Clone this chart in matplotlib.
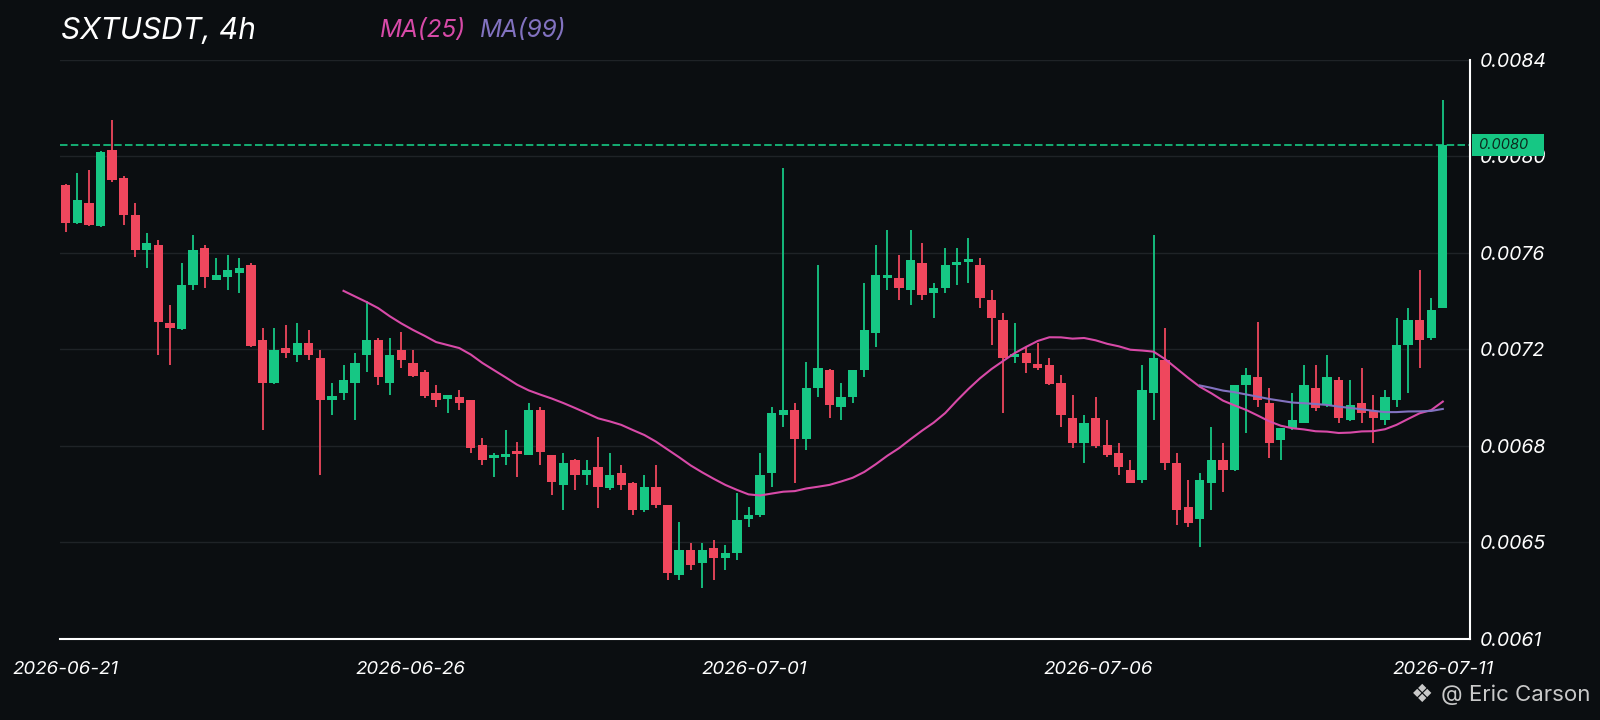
import numpy as np
import pandas as pd
import matplotlib
matplotlib.use("Agg")
import matplotlib.pyplot as plt
from matplotlib.patches import Rectangle
from matplotlib import transforms

# SXTUSDT 4h candles (price in USDT)
open_ = [7.866e-3, 7.718e-3, 7.797e-3, 7.706e-3, 8.004e-3, 7.897e-3, 7.748e-3, 7.611e-3, 7.630e-3, 7.325e-3,
         7.302e-3, 7.473e-3, 7.621e-3, 7.495e-3, 7.506e-3, 7.523e-3, 7.554e-3, 7.257e-3, 7.089e-3, 7.226e-3,
         7.197e-3, 7.246e-3, 7.187e-3, 7.023e-3, 7.049e-3, 7.089e-3, 7.197e-3, 7.257e-3, 7.089e-3, 7.217e-3,
         7.167e-3, 7.132e-3, 7.049e-3, 7.027e-3, 7.031e-3, 7.020e-3, 6.843e-3, 6.791e-3, 6.798e-3, 6.813e-3,
         6.804e-3, 6.981e-3, 6.804e-3, 6.686e-3, 6.785e-3, 6.725e-3, 6.756e-3, 6.673e-3, 6.735e-3, 6.695e-3,
         6.588e-3, 6.677e-3, 6.607e-3, 6.332e-3, 6.430e-3, 6.381e-3, 6.440e-3, 6.400e-3, 6.420e-3, 6.551e-3,
         6.568e-3, 6.735e-3, 6.962e-3, 6.981e-3, 6.866e-3, 7.070e-3, 7.139e-3, 6.992e-3, 7.031e-3, 7.139e-3,
         7.285e-3, 7.503e-3, 7.503e-3, 7.453e-3, 7.561e-3, 7.443e-3, 7.464e-3, 7.552e-3, 7.565e-3, 7.552e-3,
         7.414e-3, 7.335e-3, 7.191e-3, 7.207e-3, 7.158e-3, 7.158e-3, 7.089e-3, 6.952e-3, 6.853e-3, 6.952e-3,
         6.844e-3, 6.813e-3, 6.745e-3, 6.706e-3, 7.049e-3, 7.178e-3, 6.774e-3, 6.598e-3, 6.551e-3, 6.695e-3,
         6.784e-3, 6.745e-3, 7.080e-3, 7.110e-3, 7.010e-3, 6.863e-3, 6.909e-3, 6.931e-3, 7.070e-3, 7.001e-3,
         7.099e-3, 6.942e-3, 7.010e-3, 6.979e-3, 6.942e-3, 7.023e-3, 7.237e-3, 7.335e-3, 7.267e-3, 7.385e-3]
high = [7.870e-3, 7.916e-3, 7.925e-3, 8.001e-3, 8.122e-3, 7.904e-3, 7.797e-3, 7.680e-3, 7.650e-3, 7.394e-3,
        7.561e-3, 7.670e-3, 7.630e-3, 7.582e-3, 7.591e-3, 7.580e-3, 7.562e-3, 7.305e-3, 7.305e-3, 7.316e-3,
        7.326e-3, 7.296e-3, 7.217e-3, 7.089e-3, 7.158e-3, 7.207e-3, 7.411e-3, 7.266e-3, 7.266e-3, 7.287e-3,
        7.217e-3, 7.138e-3, 7.080e-3, 7.040e-3, 7.060e-3, 7.020e-3, 6.872e-3, 6.813e-3, 6.902e-3, 6.854e-3,
        7.010e-3, 6.992e-3, 6.806e-3, 6.813e-3, 6.787e-3, 6.785e-3, 6.874e-3, 6.813e-3, 6.765e-3, 6.697e-3,
        6.725e-3, 6.765e-3, 6.609e-3, 6.542e-3, 6.459e-3, 6.459e-3, 6.470e-3, 6.450e-3, 6.656e-3, 6.598e-3,
        6.813e-3, 6.992e-3, 7.936e-3, 7.010e-3, 7.169e-3, 7.552e-3, 7.145e-3, 7.089e-3, 7.139e-3, 7.482e-3,
        7.630e-3, 7.689e-3, 7.591e-3, 7.689e-3, 7.639e-3, 7.482e-3, 7.621e-3, 7.621e-3, 7.660e-3, 7.582e-3,
        7.453e-3, 7.364e-3, 7.325e-3, 7.228e-3, 7.246e-3, 7.188e-3, 7.119e-3, 7.040e-3, 6.962e-3, 7.031e-3,
        6.942e-3, 6.853e-3, 6.784e-3, 7.158e-3, 7.670e-3, 7.306e-3, 6.813e-3, 6.706e-3, 6.735e-3, 6.916e-3,
        6.853e-3, 7.082e-3, 7.149e-3, 7.329e-3, 7.070e-3, 6.911e-3, 7.049e-3, 7.158e-3, 7.158e-3, 7.198e-3,
        7.110e-3, 7.099e-3, 7.149e-3, 7.040e-3, 7.060e-3, 7.346e-3, 7.385e-3, 7.532e-3, 7.424e-3, 8.201e-3]
low = [7.683e-3, 7.713e-3, 7.705e-3, 7.702e-3, 7.880e-3, 7.710e-3, 7.584e-3, 7.541e-3, 7.198e-3, 7.158e-3,
       7.296e-3, 7.453e-3, 7.464e-3, 7.493e-3, 7.453e-3, 7.443e-3, 7.228e-3, 6.903e-3, 7.085e-3, 7.188e-3,
       7.169e-3, 7.180e-3, 6.725e-3, 6.962e-3, 7.023e-3, 6.942e-3, 7.132e-3, 7.082e-3, 7.040e-3, 7.149e-3,
       7.110e-3, 7.030e-3, 6.992e-3, 6.971e-3, 6.981e-3, 6.813e-3, 6.765e-3, 6.716e-3, 6.765e-3, 6.716e-3,
       6.804e-3, 6.765e-3, 6.647e-3, 6.588e-3, 6.666e-3, 6.686e-3, 6.597e-3, 6.666e-3, 6.666e-3, 6.568e-3,
       6.579e-3, 6.597e-3, 6.312e-3, 6.312e-3, 6.352e-3, 6.281e-3, 6.312e-3, 6.352e-3, 6.391e-3, 6.520e-3,
       6.559e-3, 6.677e-3, 6.913e-3, 6.695e-3, 6.826e-3, 7.031e-3, 6.952e-3, 6.944e-3, 7.010e-3, 7.110e-3,
       7.228e-3, 7.453e-3, 7.414e-3, 7.394e-3, 7.414e-3, 7.346e-3, 7.443e-3, 7.473e-3, 7.482e-3, 7.385e-3,
       7.237e-3, 6.971e-3, 7.167e-3, 7.128e-3, 7.139e-3, 7.080e-3, 6.913e-3, 6.834e-3, 6.774e-3, 6.834e-3,
       6.795e-3, 6.726e-3, 6.693e-3, 6.695e-3, 6.942e-3, 6.745e-3, 6.529e-3, 6.520e-3, 6.444e-3, 6.588e-3,
       6.660e-3, 6.743e-3, 6.892e-3, 6.992e-3, 6.791e-3, 6.784e-3, 6.903e-3, 6.931e-3, 6.979e-3, 6.994e-3,
       6.931e-3, 6.940e-3, 6.931e-3, 6.853e-3, 6.922e-3, 6.992e-3, 7.049e-3, 7.149e-3, 7.257e-3, 7.383e-3]
close = [7.720e-3, 7.807e-3, 7.709e-3, 7.997e-3, 7.886e-3, 7.751e-3, 7.611e-3, 7.639e-3, 7.329e-3, 7.306e-3,
         7.473e-3, 7.611e-3, 7.506e-3, 7.512e-3, 7.532e-3, 7.542e-3, 7.233e-3, 7.089e-3, 7.217e-3, 7.208e-3,
         7.246e-3, 7.197e-3, 7.023e-3, 7.030e-3, 7.099e-3, 7.167e-3, 7.257e-3, 7.110e-3, 7.197e-3, 7.178e-3,
         7.115e-3, 7.036e-3, 7.020e-3, 7.034e-3, 7.011e-3, 6.833e-3, 6.784e-3, 6.798e-3, 6.807e-3, 6.807e-3,
         6.981e-3, 6.817e-3, 6.699e-3, 6.774e-3, 6.725e-3, 6.745e-3, 6.677e-3, 6.725e-3, 6.686e-3, 6.588e-3,
         6.677e-3, 6.607e-3, 6.341e-3, 6.430e-3, 6.371e-3, 6.430e-3, 6.400e-3, 6.420e-3, 6.548e-3, 6.568e-3,
         6.725e-3, 6.971e-3, 6.981e-3, 6.866e-3, 7.070e-3, 7.148e-3, 7.001e-3, 7.031e-3, 7.139e-3, 7.296e-3,
         7.512e-3, 7.512e-3, 7.464e-3, 7.571e-3, 7.434e-3, 7.464e-3, 7.552e-3, 7.561e-3, 7.574e-3, 7.424e-3,
         7.346e-3, 7.188e-3, 7.198e-3, 7.167e-3, 7.149e-3, 7.086e-3, 6.962e-3, 6.853e-3, 6.931e-3, 6.840e-3,
         6.804e-3, 6.756e-3, 6.695e-3, 7.060e-3, 7.188e-3, 6.774e-3, 6.588e-3, 6.538e-3, 6.706e-3, 6.784e-3,
         6.745e-3, 7.080e-3, 7.119e-3, 7.023e-3, 6.853e-3, 6.909e-3, 6.942e-3, 7.080e-3, 6.988e-3, 7.110e-3,
         6.952e-3, 7.001e-3, 6.971e-3, 6.952e-3, 7.031e-3, 7.237e-3, 7.335e-3, 7.257e-3, 7.375e-3, 8.024e-3]

date_labels = ["2026-06-21", "2026-06-26", "2026-07-01", "2026-07-06", "2026-07-11"]
price_ticks = [0.00608, 0.00646, 0.00684, 0.00722, 0.00760, 0.00798, 0.00836]

BG = "#0b0e11"
UP = "#16c784"
DOWN = "#ef475d"
MA25_COLOR = "#d84aa8"
MA99_COLOR = "#8272c0"

plt.rcParams["font.family"] = ["Inter", "DejaVu Sans"]

o = np.array(open_)
h = np.array(high)
l = np.array(low)
c = np.array(close)
x = np.arange(len(c))

fig = plt.figure(figsize=(16, 7.2), dpi=100, facecolor=BG)
ax = fig.add_axes([0.0375, 0.1125, 0.88125, 0.80417])
ax.set_facecolor(BG)

colors = np.where(c >= o, UP, DOWN)
ax.vlines(x, l, h, colors=colors, linewidth=1.3, zorder=2)
body_lo = np.minimum(o, c)
body_h = np.maximum(np.abs(c - o), 1.2e-5)
ax.bar(x, body_h, bottom=body_lo, width=0.8, color=colors, linewidth=0, zorder=3)

# moving averages of the close
ma25 = pd.Series(c).rolling(25).mean()
ma99 = pd.Series(c).rolling(99).mean()
ax.plot(x, ma25, color=MA25_COLOR, lw=1.5, zorder=4)
ax.plot(x, ma99, color=MA99_COLOR, lw=1.5, zorder=4)

# last price line + tag
last = c[-1]
ax.axhline(last, color=UP, lw=1.2, ls=(0, (4.5, 2)), zorder=1.5)
trans = transforms.blended_transform_factory(ax.transAxes, ax.transData)
ax.add_patch(Rectangle((1.0015, last - 4.3e-5), 0.051, 8.66e-5, transform=trans,
                       facecolor=UP, edgecolor="none", clip_on=False, zorder=5))
ax.text(1.006, last, f"{last:.4f}", transform=trans, ha="left", va="center",
        fontsize=10.5, style="italic", color="#0b2a1e", zorder=6, clip_on=False)

ax.set_xlim(-0.5, 121.35)
ax.set_ylim(price_ticks[0], price_ticks[-1])

ax.yaxis.tick_right()
ax.set_yticks(price_ticks, [f"{t:.4f}" for t in price_ticks], fontstyle="italic")
ax.set_xticks(np.linspace(0, len(c) - 1, len(date_labels)), date_labels, fontstyle="italic")
ax.tick_params(axis="y", length=0, pad=7, labelsize=14, labelcolor="white")
ax.tick_params(axis="x", length=0, pad=16, labelsize=13.5, labelcolor="white")

ax.grid(axis="y", color="#1f2327", lw=1)
ax.set_axisbelow(True)
for side in ["left", "top"]:
    ax.spines[side].set_visible(False)
for side in ["right", "bottom"]:
    ax.spines[side].set_color("white")
    ax.spines[side].set_linewidth(1.5)

fig.text(61 / 1600, 1 - 31 / 720, "SXTUSDT, 4h", color="white", fontsize=21.5,
         style="italic", ha="left", va="center")
fig.text(380 / 1600, 1 - 31 / 720, "MA(25)", color=MA25_COLOR, fontsize=17.5,
         style="italic", ha="left", va="center")
fig.text(480 / 1600, 1 - 31 / 720, "MA(99)", color=MA99_COLOR, fontsize=17.5,
         style="italic", ha="left", va="center")
fig.text(1433 / 1600, 1 - 695 / 720, "\u2756", color="#c9c9c9", fontsize=18,
         ha="right", va="center", family="DejaVu Sans")
fig.text(0.994, 1 - 695 / 720, "@ Eric Carson", color="#c9c9c9", fontsize=16,
         ha="right", va="center")

fig.savefig("out.png", dpi=100, facecolor=BG)
